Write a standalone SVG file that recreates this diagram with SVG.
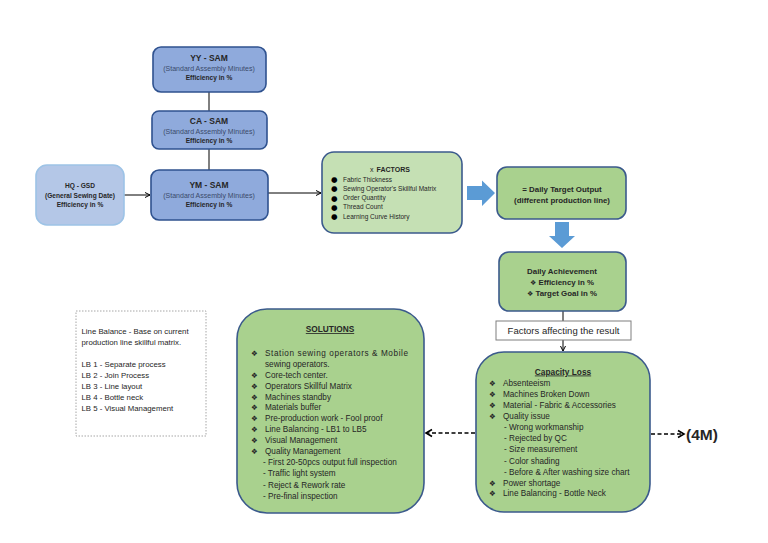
<svg xmlns="http://www.w3.org/2000/svg" width="768" height="543" viewBox="0 0 768 543">
<defs>
<style>
text{font-family:"Liberation Sans",Arial,sans-serif;fill:#262626}
.blue{fill:#8faadc;stroke:#2f528f;stroke-width:1.6}
.lblue{fill:#b4c7e7;stroke:#9dc3e6;stroke-width:1.6}
.green{fill:#a9d18e;stroke:#3b5a8c;stroke-width:1.6}
.lgreen{fill:#c5e0b4;stroke:#3b5a8c;stroke-width:1.6}
.t{font-weight:bold;font-size:8.5px;text-anchor:middle}
.s{font-size:7px;text-anchor:middle;fill:#3b4a6b}
.e{font-weight:bold;font-size:6.6px;text-anchor:middle}
.h{font-weight:bold;font-size:6.6px;text-anchor:middle}
.f{font-size:6.5px}
.bu{font-size:7.5px;font-family:"DejaVu Sans",sans-serif;fill:#000}
.b{font-weight:bold;font-size:7.9px;text-anchor:middle}
.i{font-size:8.2px}
.d{font-size:7.5px;font-family:"DejaVu Sans",sans-serif}
.u{font-weight:bold;font-size:8.3px;text-anchor:middle;text-decoration:underline}
.l{font-size:7.8px}
.ln{stroke:#000;stroke-width:1;fill:none}
.ds{stroke:#000;stroke-width:1.6;fill:none;stroke-dasharray:4 2.5}
.ba{fill:#5b9bd5}
</style>
<marker id="ah" markerWidth="8" markerHeight="8" refX="6" refY="4" orient="auto" markerUnits="userSpaceOnUse">
<path d="M1,1.5 L6,4 L1,6.5" fill="none" stroke="#000" stroke-width="1"/>
</marker>
<marker id="dh" markerWidth="10" markerHeight="10" refX="8" refY="5" orient="auto" markerUnits="userSpaceOnUse">
<path d="M2,1.5 L8,5 L2,8.5" fill="none" stroke="#000" stroke-width="1.6"/>
</marker>
</defs>
<rect width="768" height="543" fill="#fff"/>

<g id="connectors">
<line class="ln" x1="209" y1="92" x2="209" y2="111"/>
<line class="ln" x1="209" y1="149" x2="209" y2="170"/>
<line class="ln" x1="124" y1="195" x2="150" y2="195" marker-end="url(#ah)"/>
<line class="ln" x1="268" y1="193" x2="321" y2="193" stroke="#595959" marker-end="url(#ah)"/>
<polygon class="ba" points="467,186 482,186 482,180.5 495,193 482,206 482,200 467,200"/>
<polygon class="ba" points="555,222 569,222 569,236 575,236 562,248 549,236 555,236"/>
<line class="ln" x1="563" y1="311" x2="563" y2="321"/>
<line class="ln" x1="563" y1="340" x2="563" y2="351" marker-end="url(#ah)"/>
<line class="ds" x1="475" y1="433" x2="426" y2="433" marker-end="url(#dh)"/>
<line class="ds" x1="651" y1="434" x2="684" y2="434" marker-end="url(#dh)"/>
</g>

<g id="yy">
<rect class="blue" x="153" y="47" width="113" height="45" rx="8"/>
<text class="t" x="209" y="61">YY - SAM</text>
<text class="s" x="209" y="71">(Standard Assembly Minutes)</text>
<text class="e" x="209" y="80">Efficiency in %</text>
</g>
<g id="ca">
<rect class="blue" x="152" y="111" width="115" height="38" rx="7"/>
<text class="t" x="209" y="124">CA - SAM</text>
<text class="s" x="209" y="133.5">(Standard Assembly Minutes)</text>
<text class="e" x="209" y="142.5">Efficiency in %</text>
</g>
<g id="ym">
<rect class="blue" x="151" y="170" width="117" height="50" rx="8"/>
<text class="t" x="209" y="188">YM - SAM</text>
<text class="s" x="209" y="197.5">(Standard Assembly Minutes)</text>
<text class="e" x="209" y="206.5">Efficiency in %</text>
</g>
<g id="hq">
<rect class="lblue" x="36" y="165" width="88" height="60" rx="11"/>
<text class="h" x="80" y="188">HQ - GSD</text>
<text class="h" x="80" y="197.5">(General Sewing Date)</text>
<text class="h" x="80" y="206.5">Efficiency in %</text>
</g>

<g id="factors">
<rect class="lgreen" x="322" y="152" width="140" height="81" rx="12"/>
<text x="390" y="171.5" style="font-size:7px;text-anchor:middle"><tspan>x</tspan><tspan font-weight="bold" dx="3">FACTORS</tspan></text>
<g class="f">
<text class="bu" x="331" y="182">●</text><text x="343" y="181.5">Fabric Thickness</text>
<text class="bu" x="331" y="191.2">●</text><text x="343" y="190.7">Sewing Operator's Skillful Matrix</text>
<text class="bu" x="331" y="200.5">●</text><text x="343" y="200">Order Quantity</text>
<text class="bu" x="331" y="209.7">●</text><text x="343" y="209.2">Thread Count</text>
<text class="bu" x="331" y="219">●</text><text x="343" y="218.5">Learning Curve History</text>
</g>
</g>

<g id="target">
<rect class="green" x="497" y="167" width="129" height="52" rx="10"/>
<text class="b" x="562" y="192">= Daily Target Output</text>
<text class="b" x="562" y="203">(different production line)</text>
</g>

<g id="achievement">
<rect class="green" x="499" y="252" width="127" height="59" rx="10"/>
<text class="b" x="562" y="273.5">Daily Achievement</text>
<text class="b" x="562" y="284.5"><tspan style="font-family:'DejaVu Sans',sans-serif;font-weight:normal;font-size:7px">❖</tspan>  Efficiency in %</text>
<text class="b" x="562" y="295.5"><tspan style="font-family:'DejaVu Sans',sans-serif;font-weight:normal;font-size:7px">❖</tspan>  Target Goal in %</text>
</g>

<g id="affecting">
<rect x="496" y="321" width="135" height="19" fill="#fff" stroke="#7f7f7f" stroke-width="1"/>
<text x="563.5" y="334" style="font-size:9.5px;text-anchor:middle">Factors affecting the result</text>
</g>

<g id="capacity">
<rect class="green" x="476" y="352" width="174" height="160" rx="28"/>
<text class="u" x="563" y="374.5">Capacity Loss</text>
<g class="i">
<text class="d" x="489" y="385.5">❖</text><text x="503" y="385.5">Absenteeism</text>
<text class="d" x="489" y="397">❖</text><text x="503" y="397">Machines Broken Down</text>
<text class="d" x="489" y="408.3">❖</text><text x="503" y="408.3">Material - Fabric &amp; Accessories</text>
<text class="d" x="489" y="419.3">❖</text><text x="503" y="419.3">Quality issue</text>
<text x="504" y="430.3">- Wrong workmanship</text>
<text x="504" y="441.3">- Rejected by QC</text>
<text x="504" y="452.3">- Size measurement</text>
<text x="504" y="463.5">- Color shading</text>
<text x="504" y="474.5">- Before &amp; After washing size chart</text>
<text class="d" x="489" y="485.5">❖</text><text x="503" y="485.5">Power shortage</text>
<text class="d" x="489" y="495.5">❖</text><text x="503" y="495.5">Line Balancing - Bottle Neck</text>
</g>
</g>

<g id="solutions">
<rect class="green" x="237" y="309" width="187" height="204" rx="30"/>
<text class="u" x="330" y="332">SOLUTIONS</text>
<g class="i">
<text class="d" x="251" y="355.5">❖</text><text x="265" y="355.5" textLength="143" lengthAdjust="spacing">Station sewing operators &amp; Mobile</text>
<text x="265" y="367">sewing operators.</text>
<text class="d" x="251" y="378">❖</text><text x="265" y="378">Core-tech center.</text>
<text class="d" x="251" y="389">❖</text><text x="265" y="389">Operators Skillful Matrix</text>
<text class="d" x="251" y="399.5">❖</text><text x="265" y="399.5">Machines standby</text>
<text class="d" x="251" y="410">❖</text><text x="265" y="410">Materials buffer</text>
<text class="d" x="251" y="421">❖</text><text x="265" y="421">Pre-production work - Fool proof</text>
<text class="d" x="251" y="432">❖</text><text x="265" y="432">Line Balancing - LB1 to LB5</text>
<text class="d" x="251" y="443">❖</text><text x="265" y="443">Visual Management</text>
<text class="d" x="251" y="454">❖</text><text x="265" y="454">Quality Management</text>
<text x="263" y="465">- First 20-50pcs output full inspection</text>
<text x="263" y="476">- Traffic light system</text>
<text x="263" y="487.5">- Reject &amp; Rework rate</text>
<text x="263" y="498.5">- Pre-final inspection</text>
</g>
</g>

<g id="linebalance">
<rect x="76" y="311" width="130" height="125" fill="none" stroke="#a6a6a6" stroke-width="1" stroke-dasharray="1.5 1.5"/>
<g class="l">
<text x="81.5" y="333.5">Line Balance - Base on current</text>
<text x="81.5" y="344.5">production line skillful matrix.</text>
<text x="81.5" y="366.5">LB 1 - Separate process</text>
<text x="81.5" y="377.5">LB 2 - Join Process</text>
<text x="81.5" y="388.5">LB 3 - Line layout</text>
<text x="81.5" y="399.5">LB 4 - Bottle neck</text>
<text x="81.5" y="410.5">LB 5 - Visual Management</text>
</g>
</g>

<g id="fourm">
<text x="686" y="440" style="font-weight:bold;font-size:15.5px">(4M)</text>
</g>
</svg>
